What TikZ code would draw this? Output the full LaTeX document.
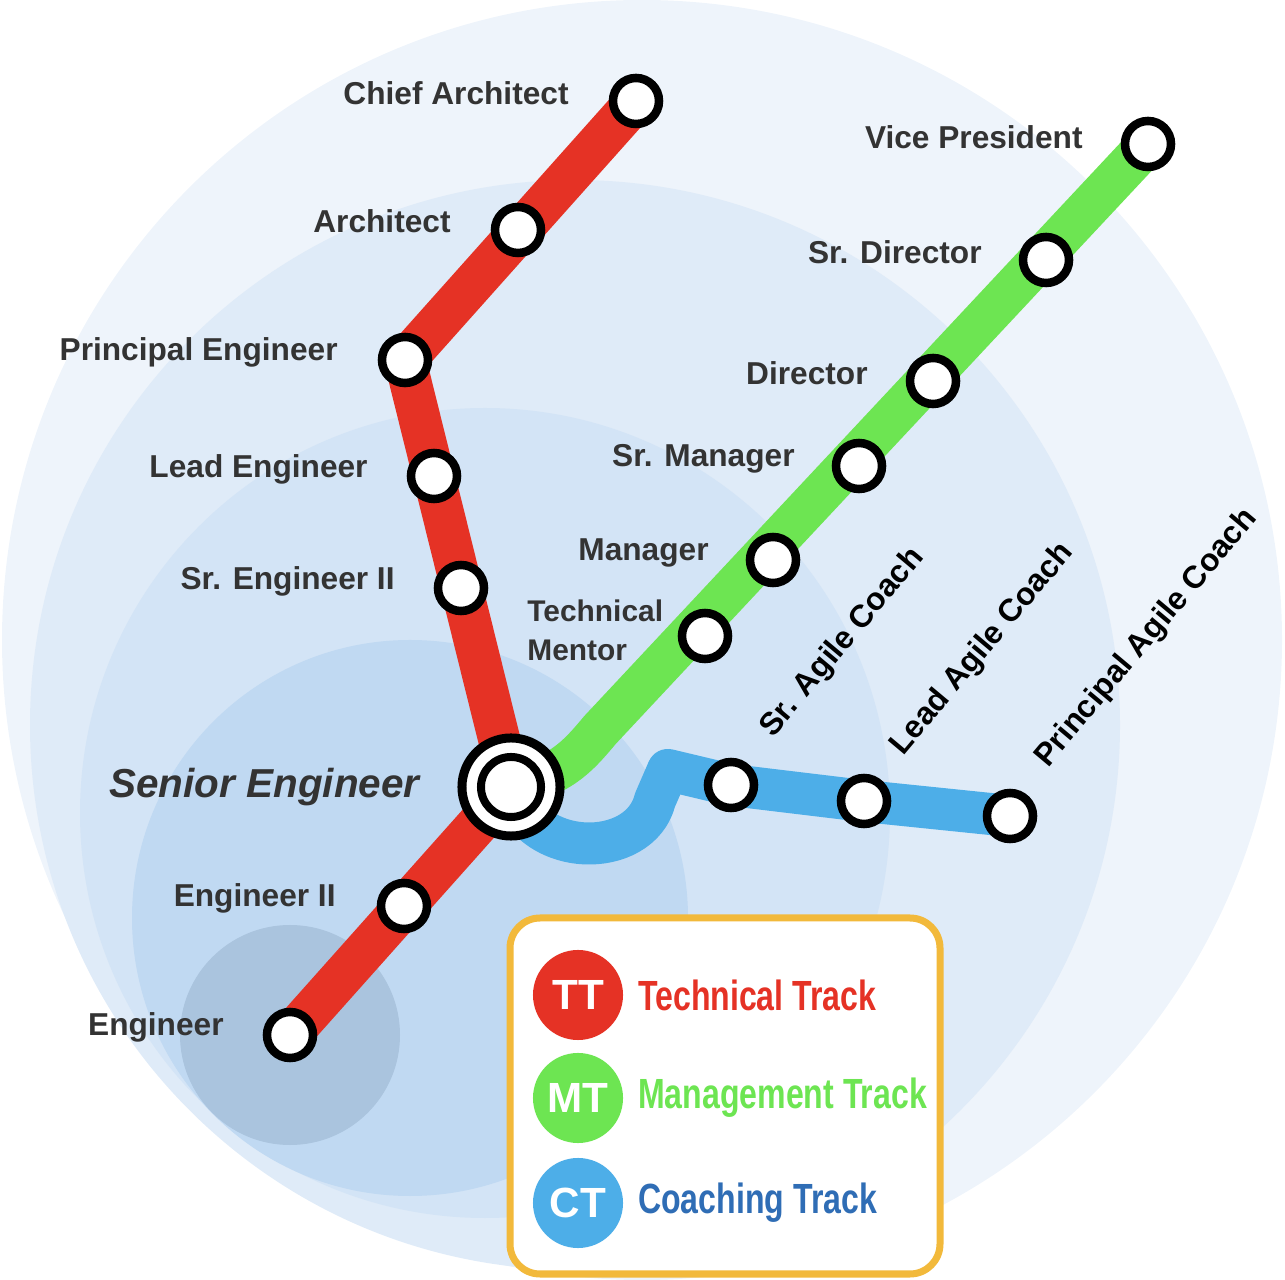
\documentclass[tikz,border=0pt]{standalone}
\usepackage{fontspec}
\setmainfont{Liberation Sans}
\usetikzlibrary{positioning}
\definecolor{ttred}{HTML}{E53225}
\definecolor{mtgreen}{HTML}{6DE552}
\definecolor{ctblue}{HTML}{4DAEE8}
\definecolor{ctdark}{HTML}{2F6DB5}
\definecolor{labgray}{HTML}{333333}
\definecolor{legendor}{HTML}{F2B93B}
\newcommand{\narrow}[1]{\scalebox{0.76}[1]{#1}}
\tikzset{
  station/.style = {circle, draw = black, fill = white, line width = 0.085cm, minimum size = 0.46cm, inner sep = 0},
  lbl/.style = {font = \bfseries\fontsize{9}{11}\selectfont, text = labgray},
  track/.style = {line width = 0.42cm, line cap = round, line join = round},
  badge/.style = {circle, minimum size = 0.9cm, inner sep = 0, text = white, font = \bfseries\fontsize{12}{14}\selectfont},
  legtext/.style = {font = \bfseries\fontsize{12}{14}\selectfont}
}
\begin{document}
\begin{tikzpicture}[x = 0.01cm, y = -0.01cm]
\useasboundingbox (0, 0) rectangle (1285, 1280);
% background rings
\fill [color = {rgb,255:red,238;green,244;blue,251}] (642, 640) circle (640);
\fill [color = {rgb,255:red,223;green,235;blue,248}] (575, 725) circle (545);
\fill [color = {rgb,255:red,211;green,228;blue,246}] (485, 813) circle (405);
\fill [color = {rgb,255:red,192;green,217;blue,242}] (410, 918) circle (278);
\fill [color = {rgb,255:red,170;green,196;blue,222}] (290, 1035) circle (110);
% stations
\coordinate (eng) at (290, 1035);
\coordinate (eng2) at (404, 906);
\coordinate (senior) at (511, 787);
\coordinate (sreng2) at (461, 588);
\coordinate (lead) at (434, 476);
\coordinate (principal) at (405, 360);
\coordinate (architect) at (518, 230);
\coordinate (chief) at (636, 101);
\coordinate (mentor) at (705, 636);
\coordinate (manager) at (773, 560);
\coordinate (srmanager) at (859, 466);
\coordinate (director) at (933, 381);
\coordinate (srdirector) at (1046, 260);
\coordinate (vp) at (1148, 144);
\coordinate (srcoach) at (731, 785);
\coordinate (leadcoach) at (864, 801);
\coordinate (princoach) at (1010, 816);
% tracks
\draw [track, ctblue] (senior) .. controls (530, 860) and (640, 860) .. (655, 800) -- (668, 770) -- (srcoach) -- (leadcoach) -- (princoach);
\draw [track, mtgreen] (senior) .. controls (560, 775) and (575, 760) .. (600, 730) -- (vp);
\draw [track, ttred] (eng) -- (senior) -- (principal) -- (chief);
\foreach \s in {eng, eng2, sreng2, lead, principal, architect, chief, mentor, manager, srmanager, director, srdirector, vp, srcoach, leadcoach, princoach}
  \node [station] (\s-st) at (\s) {};
\node [circle, draw = black, fill = white, line width = 0.09cm, minimum size = 0.98cm] (senior-st) at (senior) {};
\node [circle, draw = black, fill = white, line width = 0.08cm, minimum size = 0.6cm] at (senior) {};
% labels
\node [lbl, anchor = east] at (236, 1027) {Engineer};
\node [lbl, anchor = east] at (348, 898) {Engineer II};
\node [lbl, anchor = east, font = \bfseries\itshape\fontsize{11.5}{14}\selectfont] at (432, 787) {Senior Engineer};
\node [lbl, anchor = east] at (407, 581) {Sr. Engineer II};
\node [lbl, anchor = east] at (380, 469) {Lead Engineer};
\node [lbl, anchor = east] at (350, 352) {Principal Engineer};
\node [lbl, anchor = east] at (463, 221) {Architect};
\node [lbl, anchor = east] at (581, 93) {Chief Architect};
\node [lbl, anchor = west, align = left, font = \bfseries\fontsize{8.5}{11}\selectfont] at (515, 630) {Technical\\Mentor};
\node [lbl, anchor = east] at (721, 553) {Manager};
\node [lbl, anchor = east] at (807, 459) {Sr. Manager};
\node [lbl, anchor = east] at (880, 373) {Director};
\node [lbl, anchor = east] at (994, 252) {Sr. Director};
\node [lbl, anchor = east] at (1095, 137) {Vice President};
\node [lbl, text = black, anchor = south west, rotate = 50] at (780, 760) {Sr. Agile Coach};
\node [lbl, text = black, anchor = south west, rotate = 50] at (910, 778) {Lead Agile Coach};
\node [lbl, text = black, anchor = south west, rotate = 50] at (1055, 790) {Principal Agile Coach};
% legend
\draw [legendor, line width = 0.07cm, fill = white, rounded corners = 0.3cm] (510, 918) rectangle (940, 1274);
\node [badge, fill = ttred] (tt) at (578, 995) {TT};
\node [badge, fill = mtgreen] (mt) at (578, 1098) {MT};
\node [badge, fill = ctblue] (ct) at (578, 1203) {CT};
\node [legtext, right = 0.02cm of tt, text = ttred] {\narrow{Technical Track}};
\node [legtext, right = 0.02cm of mt, text = mtgreen] {\narrow{Management Track}};
\node [legtext, right = 0.02cm of ct, text = ctdark] {\narrow{Coaching Track}};
\end{tikzpicture}
\end{document}
